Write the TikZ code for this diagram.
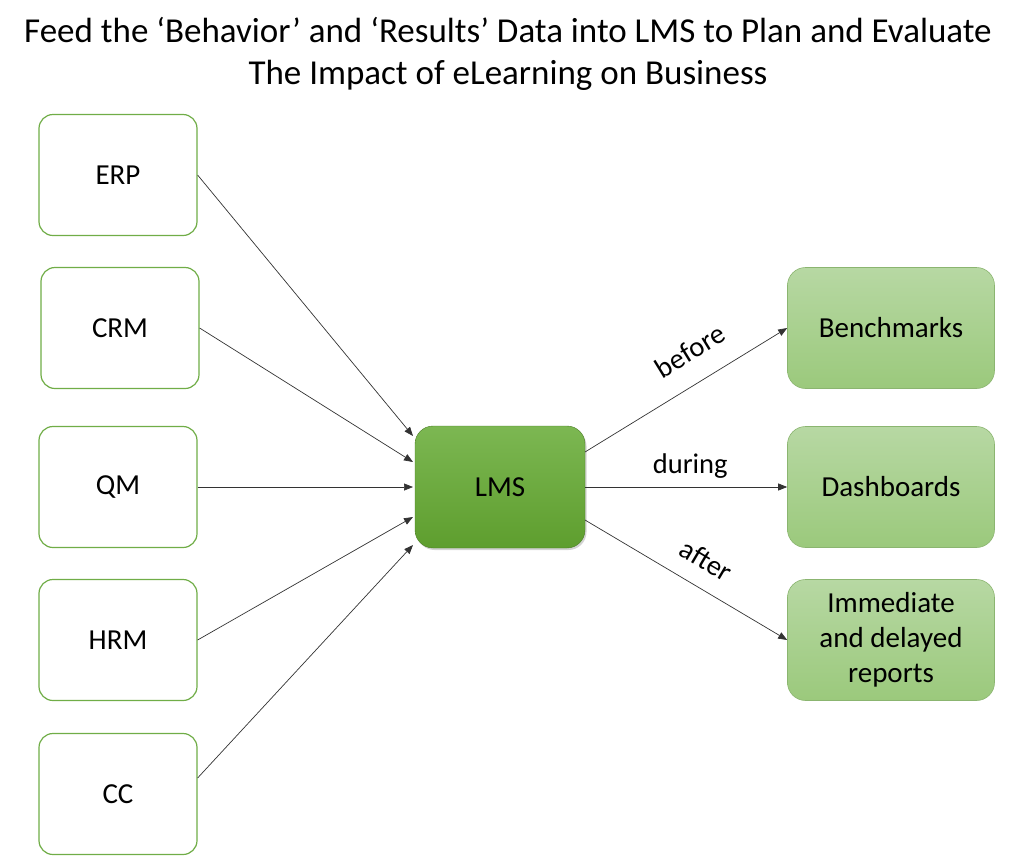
\documentclass[tikz,border=0pt]{standalone}
\usepackage{fontspec}
\setmainfont{Carlito}
\usetikzlibrary{arrows.meta,shadows}
\definecolor{bord}{HTML}{70AD47}
\definecolor{lmstop}{HTML}{7CB752}
\definecolor{lmsbot}{HTML}{5E9E2E}
\definecolor{outtop}{HTML}{B7D8A3}
\definecolor{outbot}{HTML}{9BC97C}
\tikzset{
  srcbox/.style={draw=bord, line width=1.2pt, fill=white, rounded corners=14pt, minimum width=158pt, minimum height=121pt, font=\fontsize{29}{34}\selectfont, inner sep=0pt},
  lmsbox/.style={draw=lmsbot!80!black, line width=0.4pt, top color=lmstop, bottom color=lmsbot, rounded corners=18pt, minimum width=170pt, minimum height=122pt, font=\fontsize{29}{34}\selectfont, drop shadow={shadow xshift=1.5pt, shadow yshift=-2pt, opacity=0.35}},
  outbox/.style={draw=outbot!90!black, line width=0.6pt, top color=outtop, bottom color=outbot, rounded corners=18pt, minimum width=207pt, minimum height=121pt, font=\fontsize{29}{35}\selectfont, align=center, inner sep=0pt},
  conn/.style={draw=black!80, line width=0.7pt, -{Triangle[length=9pt,width=7pt]}},
  lbl/.style={font=\fontsize{28.5}{32}\selectfont, inner sep=3pt}
}
\begin{document}
\begin{tikzpicture}[x=1pt,y=-1pt]
\useasboundingbox (0,0) rectangle (1024,855);
\node[font=\fontsize{35}{42}\selectfont, align=center] (title) at (508,54) {Feed the ‘Behavior’ and ‘Results’ Data into LMS to Plan and Evaluate\\The Impact of eLearning on Business};
\node[srcbox] (erp) at (118,175) {ERP};
\node[srcbox] (crm) at (120,328) {CRM};
\node[srcbox] (qm) at (118,487) {QM};
\node[srcbox] (hrm) at (118,640) {HRM};
\node[srcbox] (cc) at (118,794) {CC};
\node[lmsbox] (lms) at (500,487) {LMS};
\node[outbox] (bench) at (891,328) {Benchmarks};
\node[outbox] (dash) at (891,487) {Dashboards};
\node[outbox] (rep) at (891,640) {Immediate\\and delayed\\reports};
\coordinate (i1) at (413,436);
\coordinate (i2) at (413,462);
\coordinate (i3) at (413,487);
\coordinate (i4) at (413,517);
\coordinate (i5) at (413,545);
\draw[conn] (erp.east) -- (i1);
\draw[conn] (crm.east) -- (i2);
\draw[conn] (qm.east) -- (i3);
\draw[conn] (hrm.east) -- (i4);
\draw[conn] (cc.east |- 0,778) -- (i5);
\coordinate (o1) at (585,452);
\coordinate (o3) at (585,520);
\draw[conn] (o1) -- node[lbl, above=18pt, sloped, pos=0.6] {before} (bench.west);
\draw[conn] (lms.east) -- node[lbl, above=5pt, pos=0.52] {during} (dash.west);
\draw[conn] (o3) -- node[lbl, above=14pt, sloped, pos=0.53] {after} (rep.west);
\end{tikzpicture}
\end{document}
